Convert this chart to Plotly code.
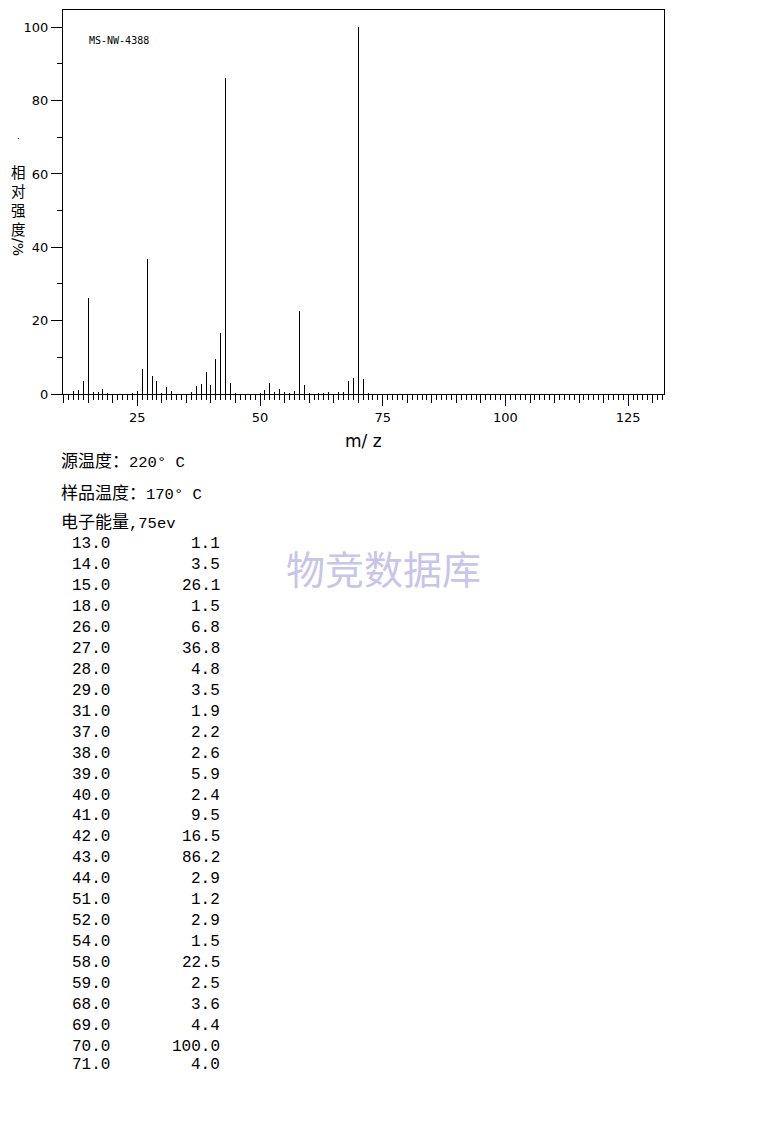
import plotly.graph_objects as go

# ---- data ----
peak_mz = [12, 13, 14, 15, 16, 17, 18, 19, 24, 25, 26, 27, 28, 29, 30, 31, 32,
           36, 37, 38, 39, 40, 41, 42, 43, 44, 45, 50, 51, 52, 53, 54, 55, 56,
           57, 58, 59, 60, 62, 63, 64, 66, 67, 68, 69, 70, 71, 72]
peak_int = [0.7, 1.1, 3.5, 26.1, 0.5, 0.5, 1.5, 0.3, 0.3, 0.7, 6.8, 36.8, 4.8,
            3.5, 0.3, 1.9, 0.7, 0.5, 2.2, 2.6, 5.9, 2.4, 9.5, 16.5, 86.2, 2.9,
            0.3, 0.3, 1.2, 2.9, 0.5, 1.5, 0.5, 0.4, 0.8, 22.5, 2.5, 0.3, 0.3,
            0.3, 0.5, 0.5, 0.5, 3.6, 4.4, 100.0, 4.0, 0.3]

table_mz = ["13.0", "14.0", "15.0", "18.0", "26.0", "27.0", "28.0", "29.0",
            "31.0", "37.0", "38.0", "39.0", "40.0", "41.0", "42.0", "43.0",
            "44.0", "51.0", "52.0", "54.0", "58.0", "59.0", "68.0", "69.0",
            "70.0", "71.0"]
table_int = ["1.1", "3.5", "26.1", "1.5", "6.8", "36.8", "4.8", "3.5", "1.9",
             "2.2", "2.6", "5.9", "2.4", "9.5", "16.5", "86.2", "2.9", "1.2",
             "2.9", "1.5", "22.5", "2.5", "3.6", "4.4", "100.0", "4.0"]

info_lines = ["源温度：220° C", "样品温度：170° C", "电子能量,75ev"]
sample_id = "MS-NW-4388"
x_ticks = [25, 50, 75, 100, 125]
y_ticks = [0, 20, 40, 60, 80, 100]

# ---- geometry ----
W, H = 765, 1134
L, R, T, B = 63, 664, 10, 394
XR = [9.86, 132.3]
YR = [0, 104.7]


def px(xp):
    return (xp - L) / (R - L)


def py(yp):
    return (B - yp) / (B - T)


def mixed_text(s):
    out = []
    for ch in s:
        if ord(ch) > 0x2E80:
            out.append('<span style="font-family:Noto Sans CJK SC;'
                       'font-size:17px">' + ch + '</span>')
        else:
            out.append(ch)
    return "".join(out)


xs, ys = [], []
for m, v in zip(peak_mz, peak_int):
    xs += [m, m, None]
    ys += [0, v, None]

fig = go.Figure()
fig.add_trace(go.Scatter(x=xs, y=ys, mode="lines",
                         line=dict(color="black", width=1),
                         hoverinfo="skip", showlegend=False))
# invisible trace for the overlay axis carrying the 5-unit ticks
fig.add_trace(go.Scatter(x=[XR[0]], y=[0], xaxis="x2", mode="markers",
                         marker=dict(opacity=0), showlegend=False,
                         hoverinfo="skip"))

tick_font = dict(family="DejaVu Sans", size=13, color="black")
fig.update_layout(
    width=W, height=H,
    margin=dict(l=L, r=W - R, t=T, b=H - B, pad=0),
    plot_bgcolor="white", paper_bgcolor="white",
    showlegend=False,
    xaxis=dict(range=XR, showline=True, linecolor="black", linewidth=1,
               mirror=True, showgrid=False, zeroline=False,
               tickmode="array", tickvals=x_ticks,
               ticktext=[str(t) for t in x_ticks],
               ticks="outside", ticklen=11, tickcolor="black", tickwidth=1,
               tickfont=tick_font, ticklabelstandoff=0,
               minor=dict(dtick=1, tick0=0, ticks="outside", ticklen=5,
                          tickcolor="black", tickwidth=1, showgrid=False)),
    xaxis2=dict(range=XR, overlaying="x", anchor="y", side="bottom",
                showline=False, showgrid=False, zeroline=False,
                dtick=5, tick0=0, ticks="outside", ticklen=8,
                tickcolor="black", tickwidth=1, showticklabels=False),
    yaxis=dict(range=YR, showline=True, linecolor="black", linewidth=1,
               mirror=True, showgrid=False, zeroline=False,
               tickmode="array", tickvals=y_ticks,
               ticktext=[str(t) for t in y_ticks],
               ticks="outside", ticklen=11, tickcolor="black", tickwidth=1,
               tickfont=tick_font,
               minor=dict(dtick=10, tick0=0, ticks="outside", ticklen=5,
                          tickcolor="black", tickwidth=1, showgrid=False)),
)

ann = []
# sample id
ann.append(dict(x=px(87), y=py(40), xref="paper", yref="paper",
                text=sample_id, showarrow=False, xanchor="left",
                yanchor="middle",
                font=dict(family="DejaVu Sans Mono", size=10, color="black")))
# y title
ann.append(dict(x=px(18), y=py(200), xref="paper", yref="paper",
                text="相<br>对<br>强<br>度", showarrow=False,
                xanchor="center", yanchor="middle",
                font=dict(family="Noto Sans CJK SC", size=14.5,
                          color="black")))
ann.append(dict(x=px(18), y=py(247), xref="paper", yref="paper",
                text="/%", textangle=90, showarrow=False,
                xanchor="center", yanchor="middle",
                font=dict(family="DejaVu Sans", size=14, color="black")))
ann.append(dict(x=px(18), y=py(136), xref="paper", yref="paper",
                text=".", showarrow=False, xanchor="center",
                yanchor="middle",
                font=dict(family="DejaVu Sans", size=9, color="black")))
# x title
ann.append(dict(x=px(363), y=py(441), xref="paper", yref="paper",
                text="m/ z", showarrow=False, xanchor="center",
                yanchor="middle",
                font=dict(family="DejaVu Sans", size=17, color="black")))
# info lines
for t, yp in zip(info_lines, [459.5, 491.5, 520.5]):
    ann.append(dict(x=px(59), y=py(yp), xref="paper", yref="paper",
                    text=mixed_text(t), showarrow=False, xanchor="left",
                    yanchor="middle",
                    font=dict(family="Liberation Mono", size=15.5,
                              color="black")))
# table
n = len(table_mz)
for i, (a, b) in enumerate(zip(table_mz, table_int)):
    yp = 544 + i * 20.96 if i < n - 1 else 1065
    ann.append(dict(x=px(112), y=py(yp), xref="paper", yref="paper",
                    text=a, showarrow=False, xanchor="right",
                    yanchor="middle",
                    font=dict(family="Liberation Mono", size=16,
                              color="black")))
    ann.append(dict(x=px(222), y=py(yp), xref="paper", yref="paper",
                    text=b, showarrow=False, xanchor="right",
                    yanchor="middle",
                    font=dict(family="Liberation Mono", size=16,
                              color="black")))
# watermark
ann.append(dict(x=px(383), y=py(567), xref="paper", yref="paper",
                text="物竞数据库", showarrow=False, xanchor="center",
                yanchor="middle",
                font=dict(family="Noto Sans CJK SC", size=39,
                          color="#c8c5ea")))
fig.update_layout(annotations=ann)

fig.write_html(
    "out.html",
    config={"displayModeBar": False},
    post_script=(
        "document.body.style.margin='0';"
        "document.querySelectorAll('.scatterlayer path, .xtick, .ytick,"
        " .xlines-above, .ylines-above, path.xtick, path.ytick')"
        ".forEach(function(p){p.style.shapeRendering='crispEdges';});"
    ),
)
